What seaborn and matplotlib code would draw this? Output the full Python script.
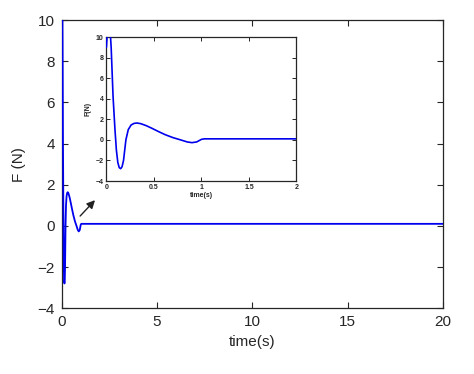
import numpy as np
import seaborn as sns
import matplotlib
matplotlib.use('Agg')
import matplotlib.pyplot as plt

# force response
time_s = [0.0, 0.01, 0.04, 0.05, 0.07, 0.09, 0.105, 0.12, 0.135, 0.15,
          0.165, 0.18, 0.19, 0.205, 0.23, 0.26, 0.29, 0.32, 0.36, 0.42, 0.48,
          0.55, 0.62, 0.70, 0.78, 0.85, 0.90, 0.95, 1.00, 1.03, 2.0, 20.0]
force_n = [9.0, 10.5, 10.5, 9.0, 4.2, 1.0, -1.0, -2.2, -2.7, -2.8,
           -2.6, -2.0, -1.2, 0.0, 1.0, 1.45, 1.6, 1.64, 1.58, 1.38, 1.12,
           0.8, 0.5, 0.22, 0.0, -0.2, -0.27, -0.2, 0.05, 0.1, 0.1, 0.1]

main_xticks = [0, 5, 10, 15, 20]
main_yticks = [-4, -2, 0, 2, 4, 6, 8, 10]
inset_xticks = [0, 0.5, 1, 1.5, 2]
inset_xlabels = ['0', '0.5', '1', '1.5', '2']

sns.set_style('ticks')
plt.rcParams['font.family'] = ['Liberation Sans', 'DejaVu Sans']

fig = plt.figure(figsize=(4.74, 3.74), dpi=100)
ax = fig.add_axes([0.130, 0.176, 0.805, 0.770])
sns.lineplot(x=time_s, y=force_n, ax=ax, color='#0000ee', lw=1.3,
             estimator=None, sort=False, zorder=3)
ax.set_xlim(0, 20)
ax.set_ylim(-4, 10)
ax.set_xticks(main_xticks)
ax.set_yticks(main_yticks)
ax.tick_params(direction='in', top=True, right=True, length=4, width=0.8,
               labelsize=11, pad=5)
ax.set_xlabel('time(s)', fontsize=11, labelpad=4)
ax.set_ylabel('F (N)', fontsize=11, labelpad=8)
for s in ax.spines.values():
    s.set_linewidth(0.9)

ax.annotate('', xy=(1.85, 1.35), xytext=(0.87, 0.38),
            arrowprops=dict(arrowstyle='-|>', color='#222222', lw=1.0,
                            mutation_scale=12))

# zoomed inset
ins = fig.add_axes([0.2245, 0.516, 0.401, 0.385])
sns.lineplot(x=time_s, y=force_n, ax=ins, color='#0000ee', lw=1.2,
             estimator=None, sort=False, zorder=3)
ins.set_xlim(0, 2)
ins.set_ylim(-4, 10)
ins.set_xticks(inset_xticks)
ins.set_xticklabels(inset_xlabels)
ins.set_yticks(main_yticks)
ins.tick_params(direction='in', top=True, right=True, length=3, width=0.7,
                labelsize=5, pad=2)
for lab in ins.get_xticklabels() + ins.get_yticklabels():
    lab.set_fontweight('bold')
ins.set_xlabel('time(s)', fontsize=5, fontweight='bold', labelpad=1)
ins.set_ylabel('F(N)', fontsize=5, fontweight='bold', labelpad=3)
for s in ins.spines.values():
    s.set_linewidth(0.9)

fig.savefig('out.png', dpi=100)
